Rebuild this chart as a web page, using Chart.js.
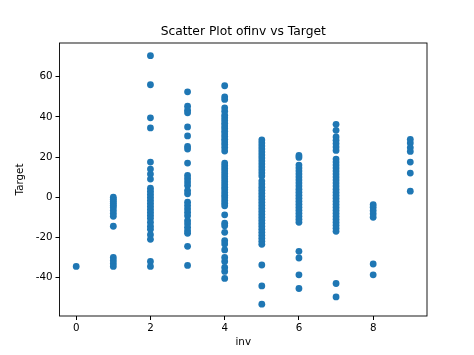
<!DOCTYPE html>
<html>
<head>
<meta charset="utf-8">
<script src="https://cdn.jsdelivr.net/npm/chart.js@4"></script>
<style>
  html, body { margin: 0; padding: 0; background: #fff; }
  #wrap { width: 474px; height: 355px; }
</style>
</head>
<body>
<div id="wrap"><canvas id="grafico" width="474" height="355"></canvas></div>
<script>
// valores de inv (eje x)
const invValues = [0, 1, 2, 3, 4, 5, 6, 7, 8, 9];

// Target por cada valor de inv
const target0 = [-34.5];
const target1 = [0, -1, -2, -3, -4, -5, -6.5, -8, -9.5, -14.5, -30, -31.5, -33, -34.5];
const target2 = [70.5, 56, 39.5, 34.5, 17.5, 14, 11.5, 9, 4.5, 3, 1.5, 0, -1.5, -3, -4.5, -6, -7.5, -9, -10.5, -12.5, -14.5, -16, -18.7, -21, -32, -34.5];
const target3 = [52.5, 45.3, 43.3, 42, 35, 30.5, 25.3, 24, 17, 10.8, 9.2, 7.5, 5.8, 3.3, 1.7, -2.5, -4.2, -5.8, -7.5, -9.2, -11.7, -13.3, -15, -16.7, -18, -24.5, -34];
const target4 = [55.5, 50, 48.7, 44.5, 42.8, 40.8, 39.5, 38.2, 36.8, 35.5, 34.2, 32.8, 31.5, 30.2, 28.8, 27.5, 26.2, 24.7, 23,
  17, 15.7, 14.3, 13, 11.7, 10.3, 9, 7.7, 6.3, 5, 3.7, 2.3, 1, -0.3, -1.7, -3, -4.3,
  -8.8, -13, -14.2, -17.5, -21.7, -23.3, -26.3, -30, -32, -35, -37, -40.5];
const target5 = [28.5, 27, 25.5, 24, 22.5, 21, 19.5, 18, 16.5, 15, 13.5, 12, 10.5, 8, 6.5, 5, 3.5, 2, 0.5, -1, -2.5, -4,
  -5.5, -7, -8.5, -10, -11.5, -13, -14.5, -16, -17.5, -19, -20.5, -22, -23.5, -33.8, -44.2, -53.3];
const target6 = [20.8, 19.8, 16, 14.5, 13, 11.5, 10, 8.5, 7, 5.5, 4, 2.5, 1, -0.5, -2, -3.5, -5, -6.5, -8, -9.5, -11, -12.5,
  -27, -30.3, -38.7, -45.5];
const target7 = [36.3, 33.3, 30, 28.3, 26.7, 25, 23.3, 19, 17.5, 16, 14.5, 13, 11.5, 10, 8.5, 7, 5.5, 4, 2.5, 1, -0.5, -2,
  -3.5, -5, -6.5, -8, -9.5, -11, -12.5, -14, -15.5, -17, -43, -49.7];
const target8 = [-3.7, -5, -6.7, -8.3, -10, -33.3, -38.7];
const target9 = [28.8, 27, 24.7, 22.8, 17.5, 12, 3];

const targets = [target0, target1, target2, target3, target4, target5, target6, target7, target8, target9];

const xTicks = [0, 2, 4, 6, 8];
const yTicks = [-40, -20, 0, 20, 40, 60];
const titulo = "Scatter Plot ofinv vs Target";

const puntos = [];
invValues.forEach((inv, i) => {
  targets[i].forEach((t) => puntos.push({ x: inv, y: t }));
});

const fuente = "'DejaVu Sans', sans-serif";

// marco completo y titulo centrado sobre el area del grafico
const marco = {
  id: "marco",
  afterDraw(chart) {
    const { ctx, chartArea } = chart;
    ctx.save();
    ctx.strokeStyle = "#000";
    ctx.lineWidth = 0.9;
    ctx.strokeRect(chartArea.left, chartArea.top, chartArea.right - chartArea.left, chartArea.bottom - chartArea.top);
    ctx.fillStyle = "#000";
    ctx.font = "12.3px " + fuente;
    ctx.textAlign = "center";
    ctx.textBaseline = "middle";
    ctx.fillText(titulo, (chartArea.left + chartArea.right) / 2, chartArea.top - 11);
    ctx.restore();
  },
};

new Chart(document.getElementById("grafico"), {
  type: "scatter",
  data: {
    datasets: [
      {
        label: "Target",
        data: puntos,
        backgroundColor: "#1f77b4",
        borderColor: "#1f77b4",
        borderWidth: 0,
        pointRadius: 3.4,
      },
    ],
  },
  options: {
    responsive: false,
    animation: false,
    layout: { padding: { left: 0, right: 47, top: 43, bottom: 0 } },
    plugins: {
      legend: { display: false },
      tooltip: { enabled: false },
      title: { display: false },
    },
    scales: {
      x: {
        type: "linear",
        min: -0.45,
        max: 9.45,
        afterBuildTicks: (scale) => {
          scale.ticks = xTicks.map((v) => ({ value: v }));
        },
        afterFit: (scale) => {
          scale.height = 39;
        },
        grid: { display: true, drawOnChartArea: false, drawTicks: true, tickLength: 4, color: "#000" },
        border: { display: false },
        ticks: { color: "#000", padding: 2, font: { family: fuente, size: 10.3 } },
        title: {
          display: true,
          text: "inv",
          color: "#000",
          font: { family: fuente, size: 10.3 },
          padding: { top: 0, bottom: 6 },
        },
      },
      y: {
        type: "linear",
        min: -59.2,
        max: 76.8,
        afterBuildTicks: (scale) => {
          scale.ticks = yTicks.map((v) => ({ value: v }));
        },
        afterFit: (scale) => {
          scale.width = 59.5;
        },
        grid: { display: true, drawOnChartArea: false, drawTicks: true, tickLength: 4, color: "#000" },
        border: { display: false },
        ticks: { color: "#000", padding: 3, font: { family: fuente, size: 10.3 } },
        title: {
          display: true,
          text: "Target",
          color: "#000",
          font: { family: fuente, size: 10.3 },
          padding: { top: 14, bottom: 0 },
        },
      },
    },
  },
  plugins: [marco],
});
</script>
</body>
</html>
